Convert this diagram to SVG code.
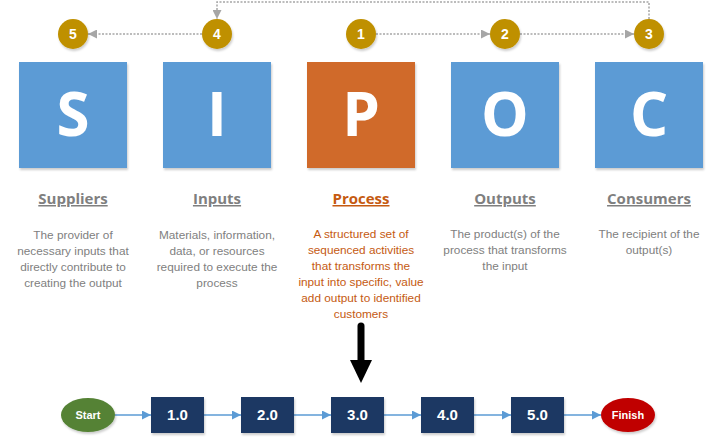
<svg xmlns="http://www.w3.org/2000/svg" width="723" height="442" viewBox="0 0 723 442">
<style>
.box{fill:#5b9bd5}
.boxp{fill:#d06b2b}
.big{font-family:"Open Sans","Liberation Sans",sans-serif;font-weight:bold;font-size:60px;fill:#fff;text-anchor:middle}
.circ{fill:#bf9000}
.num{font-family:"Liberation Sans",sans-serif;font-weight:bold;font-size:14px;fill:#fff;text-anchor:middle}
.title{font-family:"Open Sans","Liberation Sans",sans-serif;font-weight:bold;font-size:15px;fill:#7f7f7f;text-anchor:middle;text-decoration:underline}
.desc{font-family:"Liberation Sans",sans-serif;font-size:11.8px;fill:#808080;text-anchor:middle}
.orange{fill:#c55a11}
.dot{fill:none;stroke:#a6a6a6;stroke-width:1.5;stroke-dasharray:2 1.5}
.flow{fill:none;stroke:#5b9bd5;stroke-width:1.3}
.step{fill:#1f3864}
.stept{font-family:"Liberation Sans",sans-serif;font-weight:bold;font-size:15px;fill:#fff;text-anchor:middle}
.ovt{font-family:"Liberation Sans",sans-serif;font-weight:bold;font-size:11px;fill:#fff;text-anchor:middle}
</style>
<defs>
<marker id="ga" viewBox="0 0 10 10" refX="10" refY="5" markerWidth="9" markerHeight="9" markerUnits="userSpaceOnUse" orient="auto"><path d="M0,0 L10,5 L0,10 z" fill="#a6a6a6"/></marker>
<marker id="ba" viewBox="0 0 10 10" refX="10" refY="5" markerWidth="9" markerHeight="9" markerUnits="userSpaceOnUse" orient="auto"><path d="M0,0 L10,5 L0,10 z" fill="#5b9bd5"/></marker>
<filter id="sh" x="-10%" y="-10%" width="130%" height="130%"><feDropShadow dx="1" dy="2" stdDeviation="1.2" flood-color="#000" flood-opacity="0.2"/></filter>
</defs>
<g id="connectors">
<line class="dot" x1="202" y1="34" x2="88" y2="34" marker-end="url(#ga)"/>
<line class="dot" x1="376" y1="34" x2="490" y2="34" marker-end="url(#ga)"/>
<line class="dot" x1="520" y1="34" x2="634" y2="34" marker-end="url(#ga)"/>
<polyline class="dot" points="649,19 649,2 217,2 217,19" marker-end="url(#ga)"/>
<line class="flow" x1="115" y1="415" x2="151" y2="415" marker-end="url(#ba)"/>
<line class="flow" x1="204" y1="415" x2="241" y2="415" marker-end="url(#ba)"/>
<line class="flow" x1="294" y1="415" x2="331" y2="415" marker-end="url(#ba)"/>
<line class="flow" x1="384" y1="415" x2="421" y2="415" marker-end="url(#ba)"/>
<line class="flow" x1="474" y1="415" x2="511" y2="415" marker-end="url(#ba)"/>
<line class="flow" x1="564" y1="415" x2="601" y2="415" marker-end="url(#ba)"/>
<g id="bigarrow">
<line x1="361" y1="326" x2="361" y2="362" stroke="#000" stroke-width="7" stroke-linecap="round"/>
<path d="M350,360 L372,360 L361,383 z" fill="#000"/>
</g>
</g>
<g id="suppliers">
<rect class="box" x="19" y="62" width="108" height="106" filter="url(#sh)"/>
<text class="big" x="73" y="136">S</text>
<circle class="circ" cx="73" cy="34" r="15" filter="url(#sh)"/>
<text class="num" x="73" y="39">5</text>
<text class="title" x="73" y="204">Suppliers</text>
<text class="desc"><tspan x="73" y="239">The provider of</tspan><tspan x="73" y="255">necessary inputs that</tspan><tspan x="73" y="271">directly contribute to</tspan><tspan x="73" y="287">creating the output</tspan></text>
</g>
<g id="inputs">
<rect class="box" x="163" y="62" width="108" height="106" filter="url(#sh)"/>
<text class="big" x="217" y="136">I</text>
<circle class="circ" cx="217" cy="34" r="15" filter="url(#sh)"/>
<text class="num" x="217" y="39">4</text>
<text class="title" x="217" y="204">Inputs</text>
<text class="desc"><tspan x="217" y="239">Materials, information,</tspan><tspan x="217" y="255">data, or resources</tspan><tspan x="217" y="271">required to execute the</tspan><tspan x="217" y="287">process</tspan></text>
</g>
<g id="process">
<rect class="boxp" x="307" y="62" width="108" height="106" filter="url(#sh)"/>
<text class="big" x="361" y="136">P</text>
<circle class="circ" cx="361" cy="34" r="15" filter="url(#sh)"/>
<text class="num" x="361" y="39">1</text>
<text class="title orange" x="361" y="204">Process</text>
<text class="desc orange"><tspan x="361" y="238">A structured set of</tspan><tspan x="361" y="254">sequenced activities</tspan><tspan x="361" y="270">that transforms the</tspan><tspan x="361" y="286">input into specific, value</tspan><tspan x="361" y="302">add output to identified</tspan><tspan x="361" y="318">customers</tspan></text>
</g>
<g id="outputs">
<rect class="box" x="451" y="62" width="108" height="106" filter="url(#sh)"/>
<text class="big" x="505" y="136">O</text>
<circle class="circ" cx="505" cy="34" r="15" filter="url(#sh)"/>
<text class="num" x="505" y="39">2</text>
<text class="title" x="505" y="204">Outputs</text>
<text class="desc"><tspan x="505" y="238">The product(s) of the</tspan><tspan x="505" y="254">process that transforms</tspan><tspan x="505" y="270">the input</tspan></text>
</g>
<g id="consumers">
<rect class="box" x="595" y="62" width="108" height="106" filter="url(#sh)"/>
<text class="big" x="649" y="136">C</text>
<circle class="circ" cx="649" cy="34" r="15" filter="url(#sh)"/>
<text class="num" x="649" y="39">3</text>
<text class="title" x="649" y="204">Consumers</text>
<text class="desc"><tspan x="649" y="238">The recipient of the</tspan><tspan x="649" y="254">output(s)</tspan></text>
</g>
<g id="start"><ellipse cx="88" cy="415" rx="27" ry="17" fill="#548235" filter="url(#sh)"/><text class="ovt" x="88" y="419">Start</text></g>
<g id="s1"><rect class="step" x="151" y="397" width="53" height="36" filter="url(#sh)"/><text class="stept" x="177.5" y="420">1.0</text></g>
<g id="s2"><rect class="step" x="241" y="397" width="53" height="36" filter="url(#sh)"/><text class="stept" x="267.5" y="420">2.0</text></g>
<g id="s3"><rect class="step" x="331" y="397" width="53" height="36" filter="url(#sh)"/><text class="stept" x="357.5" y="420">3.0</text></g>
<g id="s4"><rect class="step" x="421" y="397" width="53" height="36" filter="url(#sh)"/><text class="stept" x="447.5" y="420">4.0</text></g>
<g id="s5"><rect class="step" x="511" y="397" width="53" height="36" filter="url(#sh)"/><text class="stept" x="537.5" y="420">5.0</text></g>
<g id="finish"><ellipse cx="628" cy="415" rx="27" ry="17" fill="#c00000" filter="url(#sh)"/><text class="ovt" x="628" y="419">Finish</text></g>
</svg>
